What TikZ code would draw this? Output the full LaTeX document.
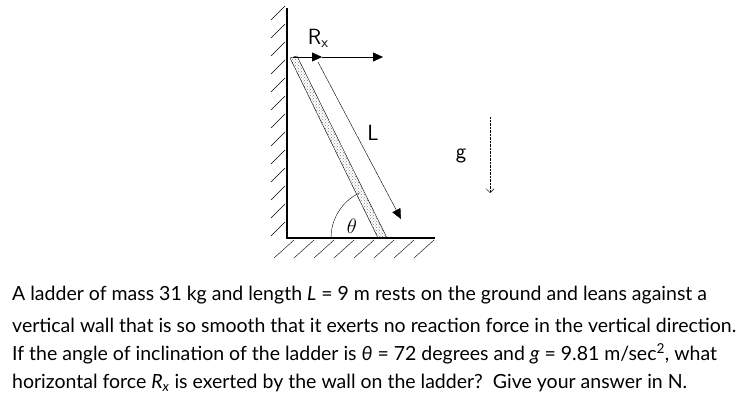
\documentclass[tikz,border=0pt]{standalone}
\usepackage{fontspec}
\setmainfont{Lato}
\usetikzlibrary{arrows.meta,patterns}
\begin{document}
\begin{tikzpicture}[x=1pt,y=-1pt,
  txt/.style={anchor=west,inner sep=0pt,font=\fontsize{19.5}{22}\selectfont},
  hand/.style={font=\sffamily\fontsize{22}{24}\selectfont,inner sep=0pt},
  tip/.style={-{Triangle[length=10pt,width=9pt]}}]
\useasboundingbox (0,0) rectangle (754,418);
% hatching
\foreach \y in {20,38,...,236} \draw[thin] (271,\y) -- (285,\y-14);
\foreach \x in {290,310,...,430} \draw[thin] (\x-16,258) -- (\x+4,240);
\draw[line width=2.5pt] (287,8) -- (287,238) -- (435,238);
% ladder
\draw[pattern=crosshatch dots, pattern color=gray] (290,58) -- (297,56) -- (387,238) -- (378,238) -- cycle;
% Rx
\coordinate (rx0) at (293,57);
\coordinate (rx1) at (383,57);
\draw[tip] (rx0) -- (322,57);
\draw[tip] (322,57) -- (rx1);
\node[hand] (rx) at (318,38) {R\raisebox{-0.3ex}{\fontsize{15}{16}\selectfont x}};
% L
\coordinate (l0) at (318,62);
\coordinate (l1) at (401,219);
\draw[thin,tip] (l0) -- (l1);
\node[hand] (L) at (373,133) {L};
% theta
\draw[thin] (331,238) arc (180:245:50);
\node[hand] (th) at (352,226) {$\mathrm{\theta}$};
% g
\node[hand] (g) at (461,156) {g};
\coordinate (g0) at (490,117);
\coordinate (g1) at (490,193);
\draw[densely dotted,-{Straight Barb[length=4pt]}] (g0) -- (g1);
% text
\node[txt] (t1) at (12,295) {A ladder of mass 31 kg and length \textit{L} = 9 m rests on the ground and leans against a};
\node[txt] (t2) at (12,325) {vertical wall that is so smooth that it exerts no reaction force in the vertical direction.};
\node[txt] (t3) at (12,354) {If the angle of inclination of the ladder is \textit{θ} = 72 degrees and \textit{g} = 9.81 m/sec\textsuperscript{2}, what};
\node[txt] (t4) at (12,383) {horizontal force \textit{R\textsubscript{x}} is exerted by the wall on the ladder?\ \ Give your answer in N.};
\end{tikzpicture}
\end{document}
